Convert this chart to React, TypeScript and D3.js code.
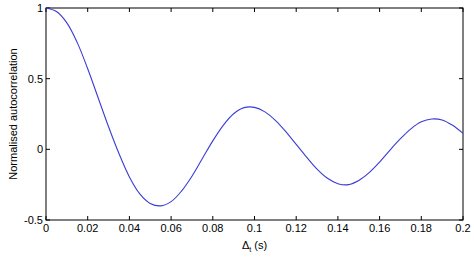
import React from "react";
import * as d3 from "d3";

const lagValues = [0, 0.005, 0.01, 0.015, 0.02, 0.025, 0.03, 0.035, 0.04, 0.045, 0.05, 0.055, 0.06, 0.065, 0.07, 0.075, 0.08, 0.085, 0.09, 0.095, 0.1, 0.105, 0.11, 0.115, 0.12, 0.125, 0.13, 0.135, 0.14, 0.145, 0.15, 0.155, 0.16, 0.165, 0.17, 0.175, 0.18, 0.185, 0.19, 0.195, 0.2];
const autocorr = [1.0, 0.975, 0.895, 0.755, 0.57, 0.365, 0.16, -0.03, -0.195, -0.315, -0.383, -0.4, -0.37, -0.295, -0.19, -0.065, 0.06, 0.17, 0.252, 0.295, 0.297, 0.265, 0.205, 0.125, 0.035, -0.055, -0.14, -0.205, -0.243, -0.25, -0.22, -0.165, -0.09, -0.005, 0.075, 0.145, 0.195, 0.215, 0.208, 0.17, 0.113];
const xTicks = [0, 0.02, 0.04, 0.06, 0.08, 0.1, 0.12, 0.14, 0.16, 0.18, 0.2];
const xTickLabels = ["0", "0.02", "0.04", "0.06", "0.08", "0.1", "0.12", "0.14", "0.16", "0.18", "0.2"];
const yTicks = [-0.5, 0, 0.5, 1];
const yTickLabels = ["-0.5", "0", "0.5", "1"];

const W = 474, H = 257;
const L = 46, R = 463, T = 8, B = 220;

export default function App() {
  const x = d3.scaleLinear().domain([0, 0.2]).range([L, R]);
  const y = d3.scaleLinear().domain([-0.5, 1]).range([B, T]);
  const pts = lagValues.map((v, i) => [v, autocorr[i]] as [number, number]);
  const line = d3.line<[number, number]>().x(d => x(d[0])).y(d => y(d[1])).curve(d3.curveCatmullRom);
  const font = "'Liberation Sans', Arial, sans-serif";
  const tl = 4;
  return (
    <svg width={W} height={H} style={{ position: "absolute", left: 0, top: 0, background: "#fff" }}>
      <rect x={L} y={T} width={R - L} height={B - T} fill="none" stroke="#000" strokeWidth={1} />
      {xTicks.map((t, i) => (
        <g key={"x" + i}>
          <line x1={x(t)} x2={x(t)} y1={B} y2={B - tl} stroke="#000" />
          <line x1={x(t)} x2={x(t)} y1={T} y2={T + tl} stroke="#000" />
          <text x={x(t)} y={B + 12} fontSize={11} fontFamily={font} textAnchor="middle">{xTickLabels[i]}</text>
        </g>
      ))}
      {yTicks.map((t, i) => (
        <g key={"y" + i}>
          <line x1={L} x2={L + tl} y1={y(t)} y2={y(t)} stroke="#000" />
          <line x1={R} x2={R - tl} y1={y(t)} y2={y(t)} stroke="#000" />
          <text x={L - 3} y={y(t) + 4} fontSize={11} fontFamily={font} textAnchor="end">{yTickLabels[i]}</text>
        </g>
      ))}
      <path d={line(pts) || ""} fill="none" stroke="#3b3bd6" strokeWidth={1.1} />
      <text x={13} y={(T + B) / 2} fontSize={11} fontFamily={font} textAnchor="middle" transform={`rotate(-90 13 ${(T + B) / 2})`} dy={4}>Normalised autocorrelation</text>
      <text x={x(0.1)} y={249} fontSize={11} fontFamily={font} textAnchor="middle">
        Δ<tspan fontSize={7} dy={3}>t</tspan><tspan dy={-3}> (s)</tspan>
      </text>
    </svg>
  );
}
